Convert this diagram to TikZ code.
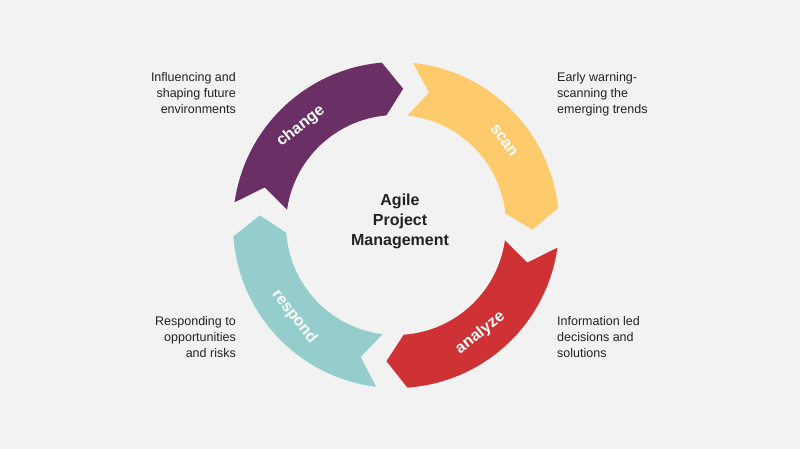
\documentclass[tikz,border=0pt]{standalone}
\usepackage{fontspec}
\setmainfont{Liberation Sans}
\definecolor{bg}{HTML}{F2F2F2}
\definecolor{cpurple}{HTML}{6A2F64}
\definecolor{cyellow}{HTML}{FDCB6B}
\definecolor{cred}{HTML}{CF3234}
\definecolor{cteal}{HTML}{94CDCB}
\definecolor{ctext}{HTML}{222222}
\newcommand\ringseg[3]{%
\fill[#1] (#2:163pt) arc[start angle=#2,end angle=#3,radius=163pt] -- ({#3-8}:136.5pt) -- (#3:110pt) arc[start angle=#3,end angle=#2,radius=110pt] -- ({#2-8}:136.5pt) -- cycle;}
\tikzset{
 seglabel/.style={text=white,font=\bfseries\fontsize{16}{18}\selectfont,inner sep=1pt},
 side/.style={text=ctext,font=\fontsize{12.5}{16}\selectfont,inner sep=0pt},
}
\begin{document}
\begin{tikzpicture}[x=1pt,y=1pt]
\fill[bg] (0,0) rectangle (800,449);
\begin{scope}[shift={(396,224)}]
\ringseg{cpurple}{172}{95}
\ringseg{cyellow}{84}{6}
\ringseg{cred}{-8}{-86}
\ringseg{cteal}{-97}{-176}
\node[seglabel,rotate=38] (change) at (134:137) {change};
\node[seglabel,rotate=-55] (scan) at (38:137) {scan};
\node[seglabel,rotate=38] (analyze) at (-52:137) {analyze};
\node[seglabel,rotate=-52] (respond) at (-138:137) {respond};
\node[align=center,text=ctext,font=\bfseries\fontsize{16}{20}\selectfont] (apm) at (4,4) {Agile\\Project\\Management};
\end{scope}
\node[side,align=right,anchor=north east] (t1) at (236,377) {Influencing and\\shaping future\\environments};
\node[side,align=left,anchor=north west] (t2) at (557,377) {Early warning-\\scanning the\\emerging trends};
\node[side,align=left,anchor=north west] (t3) at (557,133) {Information led\\decisions and\\solutions};
\node[side,align=right,anchor=north east] (t4) at (236,133) {Responding to\\opportunities\\and risks};
\end{tikzpicture}
\end{document}
